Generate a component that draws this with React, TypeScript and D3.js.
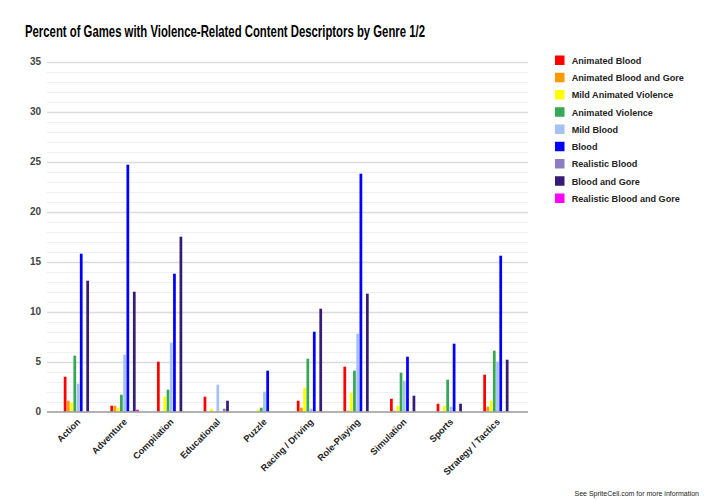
import React from "react";
import * as d3 from "d3";

const categories = ["Action", "Adventure", "Compilation", "Educational", "Puzzle", "Racing / Driving", "Role-Playing", "Simulation", "Sports", "Strategy / Tactics"];

const animatedBlood = [3.5, 0.6, 5.0, 1.5, 0, 1.1, 4.5, 1.3, 0.8, 3.7];
const animatedBloodGore = [1.1, 0.6, 0, 0, 0, 0.4, 0.1, 0.1, 0, 0.5];
const mildAnimatedViolence = [0.9, 0.4, 1.5, 0.3, 0.2, 2.4, 1.9, 0.6, 0.6, 1.1];
const animatedViolence = [5.6, 1.7, 2.2, 0, 0.4, 5.3, 4.1, 3.9, 3.2, 6.1];
const mildBlood = [2.8, 5.7, 6.9, 2.7, 2.0, 0.3, 7.8, 3.1, 0.5, 5.0];
const blood = [15.8, 24.7, 13.8, 0, 4.1, 8.0, 23.8, 5.5, 6.8, 15.6];
const realisticBlood = [0, 0.1, 0, 0.3, 0, 0, 0, 0, 0, 0];
const bloodAndGore = [13.1, 12.0, 17.5, 1.1, 0, 10.3, 11.8, 1.6, 0.8, 5.2];
const realisticBloodGore = [0, 0.2, 0, 0, 0, 0, 0, 0, 0, 0];

const seriesNames = ["Animated Blood", "Animated Blood and Gore", "Mild Animated Violence", "Animated Violence", "Mild Blood", "Blood", "Realistic Blood", "Blood and Gore", "Realistic Blood and Gore"];
const seriesValues = [animatedBlood, animatedBloodGore, mildAnimatedViolence, animatedViolence, mildBlood, blood, realisticBlood, bloodAndGore, realisticBloodGore];
const seriesColors = ["#ff0000", "#ff9900", "#ffff00", "#34a853", "#a4c2f4", "#0000ff", "#8e7cc3", "#351c75", "#ff00ff"];

const yTicks = [0, 5, 10, 15, 20, 25, 30, 35];

export default function App() {
  const W = 708, H = 500;
  const gridLeft = 47, gridRight = 528;
  const y = d3.scaleLinear().domain([0, 35]).range([411.7, 61.7]);
  const x0 = d3.scaleBand<string>().domain(categories).range([54.7, 520.8]);
  const groupW = 28.5;
  const x1 = d3.scaleBand<string>().domain(seriesNames).range([0, groupW]).paddingInner(0.15);
  const minor = d3.range(0, 36, 1).filter((v) => v % 5 !== 0);
  const font = "Liberation Sans, Arial, sans-serif";

  return (
    <svg width={W} height={H} style={{ position: "absolute", left: 0, top: 0, background: "#fff" }} fontFamily={font}>
      <rect x={0} y={0} width={W} height={H} fill="#fff" />
      <text x={25} y={37} fontSize={16.5} fontWeight="bold" fill="#000" textLength={400} lengthAdjust="spacingAndGlyphs">
        Percent of Games with Violence-Related Content Descriptors by Genre 1/2
      </text>
      {minor.map((v) => (
        <line key={"m" + v} x1={gridLeft} x2={gridRight} y1={Math.round(y(v)) + 0.5} y2={Math.round(y(v)) + 0.5} stroke="#efefef" strokeWidth={1} />
      ))}
      {yTicks.filter((v) => v !== 0).map((v) => (
        <line key={"g" + v} x1={gridLeft} x2={gridRight} y1={Math.round(y(v)) + 0.5} y2={Math.round(y(v)) + 0.5} stroke="#dcdcdc" strokeWidth={1.3} />
      ))}
      {yTicks.map((v) => (
        <text key={"t" + v} x={41} y={y(v) + 3.5} fontSize={10} fontWeight="bold" textAnchor="end" fill="#444">
          {v}
        </text>
      ))}
      {categories.map((c, ci) => {
        const cx = x0(c)! + x0.bandwidth() / 2;
        const gx = cx - groupW / 2;
        return (
          <g key={c}>
            {seriesNames.map((s, si) => {
              const v = seriesValues[si][ci];
              if (!v) return null;
              return (
                <rect key={s} x={gx + x1(s)!} y={y(v)} width={x1.bandwidth()} height={y(0) - y(v)} fill={seriesColors[si]} />
              );
            })}
          </g>
        );
      })}
      <line x1={gridLeft} x2={gridRight} y1={412} y2={412} stroke="#999" strokeWidth={1.3} />
      {categories.map((c) => {
        const cx = x0(c)! + x0.bandwidth() / 2;
        return (
          <text key={"l" + c} transform={`translate(${cx + 3},${422.5}) rotate(-45)`} fontSize={9.2} fontWeight="bold" textAnchor="end" fill="#222">
            {c}
          </text>
        );
      })}
      {seriesNames.map((s, i) => (
        <g key={"lg" + s} transform={`translate(555,${55.5 + i * 17.25})`}>
          <rect x={0} y={0} width={9.5} height={9.5} fill={seriesColors[i]} />
          <text x={16.7} y={8.3} fontSize={9.1} fontWeight="bold" fill="#222">
            {s}
          </text>
        </g>
      ))}
      <text x={699} y={496} fontSize={7} textAnchor="end" fill="#222">
        See SpriteCell.com for more information
      </text>
    </svg>
  );
}
